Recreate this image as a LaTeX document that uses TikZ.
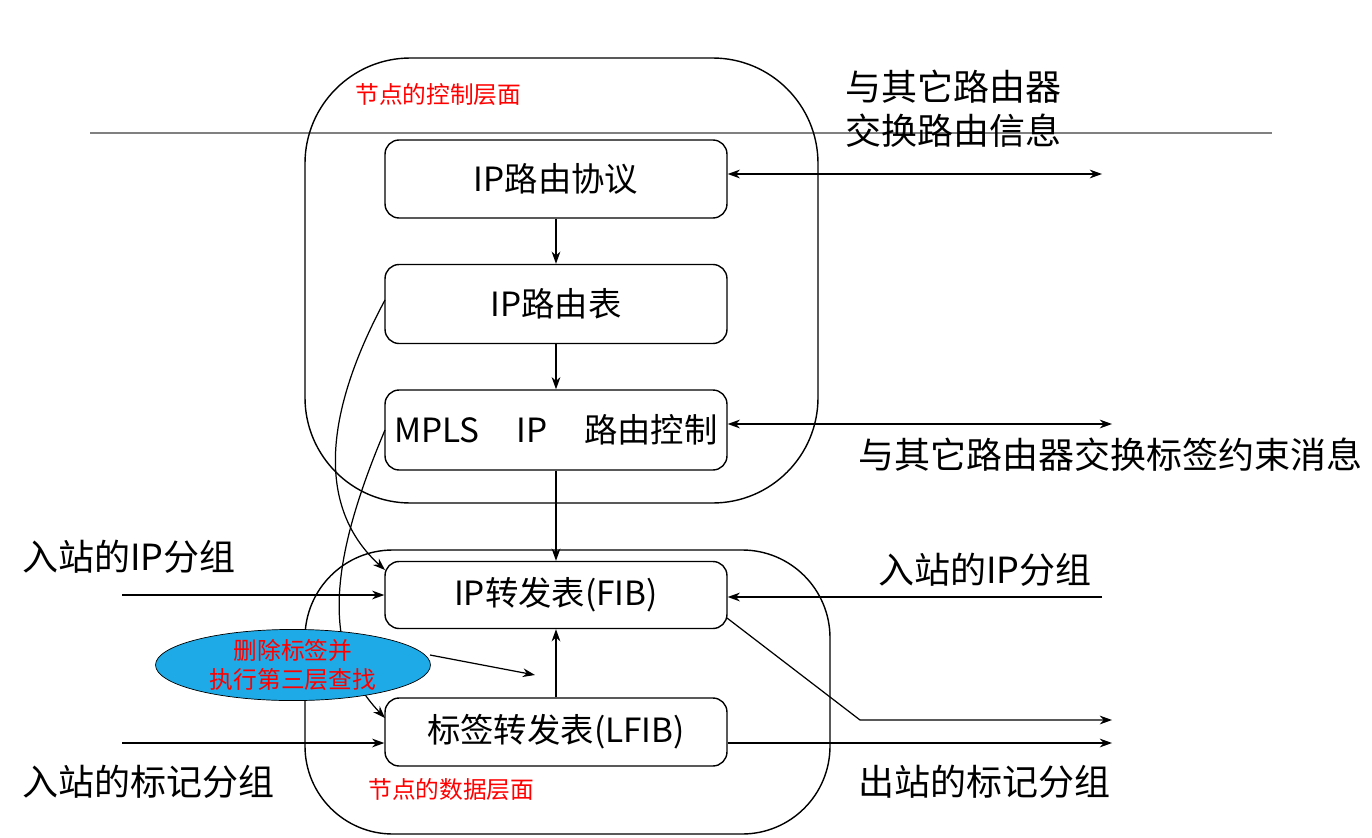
\documentclass[tikz,border=0pt]{standalone}
\usepackage{fontspec}
\setmainfont{Noto Sans CJK SC}
\usetikzlibrary{arrows.meta,shapes.geometric}
\begin{document}
\begin{tikzpicture}[x=0.02cm,y=-0.02cm,
 box/.style={draw,rounded corners=8pt,line width=0.8pt,minimum width=6.84cm,minimum height=1.5cm,font=\fontsize{19}{22}\selectfont,inner sep=0pt},
 big/.style={draw,line width=0.8pt},
 arr/.style={-{Stealth[length=7pt,width=5pt]},line width=0.7pt},
 darr/.style={{Stealth[length=7pt,width=5pt]}-{Stealth[length=7pt,width=5pt]},line width=0.7pt},
 lab/.style={font=\fontsize{20.5}{25}\selectfont,align=left,inner sep=0pt},
 red/.style={font=\fontsize{13.5}{16}\selectfont,text=red,inner sep=0pt}]
\useasboundingbox (0,0) rectangle (1372,838);
\draw[gray,line width=0.6pt] (90,133) -- (1272,133);
\draw[big,rounded corners=60] (305,58) rectangle (818,503);
\draw[big,rounded corners=50] (305,550) rectangle (830,834);
\node[red,anchor=west] (cp) at (355,95) {节点的控制层面};
\node[red,anchor=west] (dp) at (368,790) {节点的数据层面};
\node[box,minimum height=1.56cm] (rp) at (556,179) {IP路由协议};
\node[box,minimum height=1.58cm] (rt) at (556,304) {IP路由表};
\node[box,minimum height=1.6cm] (mp) at (556,430) {MPLS\hspace{1.1em}IP\hspace{1.1em}路由控制};
\node[box,minimum height=1.34cm] (fib) at (556,595) {IP转发表(FIB)};
\node[box,minimum height=1.36cm] (lfib) at (556,732) {标签转发表(LFIB)};
\draw[arr] (rp) -- (rt);
\draw[arr] (rt) -- (mp);
\draw[arr] (mp) -- (fib);
\draw[arr] (lfib) -- (fib);
\coordinate (r1) at (1102,174);
\coordinate (r2) at (1112,424);
\draw[darr] (rp.east |- r1) -- (r1);
\draw[darr] (mp.east |- r2) -- (r2);
\node[lab,anchor=north west] (t1) at (845,70) {与其它路由器\\交换路由信息};
\node[lab,anchor=west] (t2) at (858,455) {与其它路由器交换标签约束消息};
\node[lab,anchor=west] (t3) at (22,557) {入站的IP分组};
\node[lab,anchor=west] (t4) at (878,570) {入站的IP分组};
\node[lab,anchor=west] (t5) at (22,782) {入站的标记分组};
\node[lab,anchor=west] (t6) at (858,782) {出站的标记分组};
\coordinate (a1) at (122,595);
\coordinate (a2) at (1102,597);
\coordinate (a3) at (122,743);
\coordinate (o1) at (1112,720);
\coordinate (o2) at (1112,743);
\coordinate (k) at (860,720);
\draw[arr] (a1) -- (fib.west |- a1);
\draw[arr] (a2) -- (fib.east |- a2);
\draw[arr] (a3) -- (lfib.west |- a3);
\draw[arr] (lfib.east |- o2) -- (o2);
\draw[arr] (727,618) -- (k) -- (o1);
\draw[arr] (385,300) .. controls (310,440) and (330,520) .. (385,570);
\draw[arr] (385,430) .. controls (330,560) and (320,650) .. (385,718);
\node[draw,ellipse,fill={rgb,255:red,30;green,170;blue,230},minimum width=5.5cm,minimum height=1.3cm,inner sep=0pt,align=center,font=\fontsize{13.5}{16}\selectfont,text=red] (el) at (293,665) {删除标签并\\执行第三层查找};
\coordinate (ae) at (535,675);
\draw[arr] (430,655) -- (ae);
\end{tikzpicture}
\end{document}
